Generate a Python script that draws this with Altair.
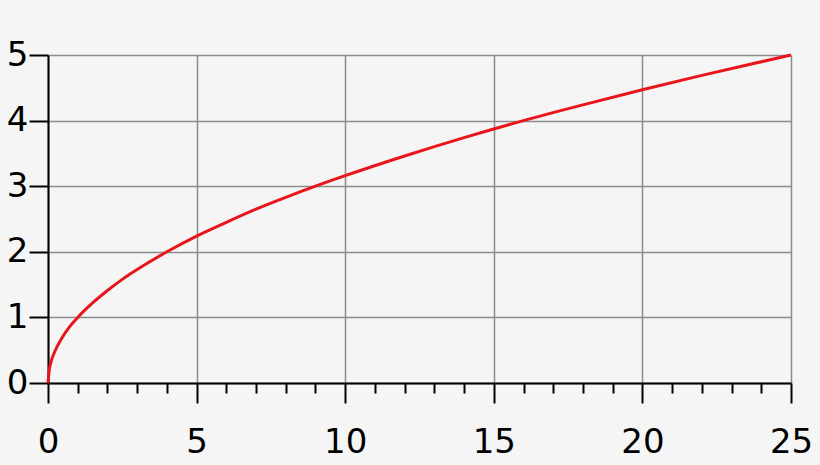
import altair as alt
import pandas as pd

xs = [0, 0.05, 0.1, 0.2, 0.3, 0.5, 0.75, 1, 1.5, 2, 2.5, 3, 4, 5, 6, 7, 8, 9, 10,
      12, 14, 16, 18, 20, 22, 25]
ys = [0, 0.22, 0.32, 0.45, 0.55, 0.71, 0.87, 1.0, 1.22, 1.41, 1.58, 1.73, 2.0, 2.24,
      2.45, 2.65, 2.83, 3.0, 3.16, 3.46, 3.74, 4.0, 4.24, 4.47, 4.69, 5.0]
x_ticks = list(range(0, 26))
y_ticks = [0, 1, 2, 3, 4, 5]

df = pd.DataFrame({"x": xs, "y": ys})

font = "DejaVu Sans"
bg = "#f5f5f5"

x_axis = alt.Axis(
    values=x_ticks,
    title=None,
    grid=True,
    gridColor="#8c8c8c",
    gridWidth=1.5,
    gridOpacity={"condition": {"test": "datum.value % 5 === 0", "value": 1}, "value": 0},
    tickSize={"condition": {"test": "datum.value % 5 === 0", "value": 20}, "value": 10},
    tickColor="black",
    tickWidth=2,
    domainColor="black",
    domainWidth=2,
    labelExpr="datum.value % 5 === 0 ? datum.label : ''",
    labelFont=font,
    labelFontSize=34,
    labelColor="black",
    labelPadding=22,
    labelFlush=False,
    labelOverlap=False,
)

y_axis = alt.Axis(
    values=y_ticks,
    title=None,
    grid=True,
    gridColor="#8c8c8c",
    gridWidth=1.5,
    tickSize=19,
    tickColor="black",
    tickWidth=2,
    domainColor="black",
    domainWidth=2,
    labelFont=font,
    labelFontSize=34,
    labelColor="black",
    labelPadding=1,
    labelFlush=False,
    labelOverlap=False,
)

chart = (
    alt.Chart(df)
    .mark_line(color="#e8161b", strokeWidth=3, interpolate="monotone")
    .encode(
        x=alt.X("x:Q", scale=alt.Scale(domain=[0, 25], nice=False), axis=x_axis),
        y=alt.Y("y:Q", scale=alt.Scale(domain=[0, 5], nice=False), axis=y_axis),
    )
    .properties(
        width=743,
        height=328,
        background=bg,
        padding={"left": 48, "top": 55, "right": 29, "bottom": 82},
        autosize=alt.AutoSizeParams(type="none"),
    )
    .configure_view(stroke=None)
)

chart.save("out.html", embed_options={"renderer": "svg", "actions": False})

with open("out.html", encoding="utf-8") as f:
    html = f.read()
style = "<style>html,body{background:%s;margin:0;padding:0;overflow:hidden;}</style>" % bg
if "</head>" in html:
    html = html.replace("</head>", style + "</head>", 1)
else:
    html = style + html
with open("out.html", "w", encoding="utf-8") as f:
    f.write(html)
